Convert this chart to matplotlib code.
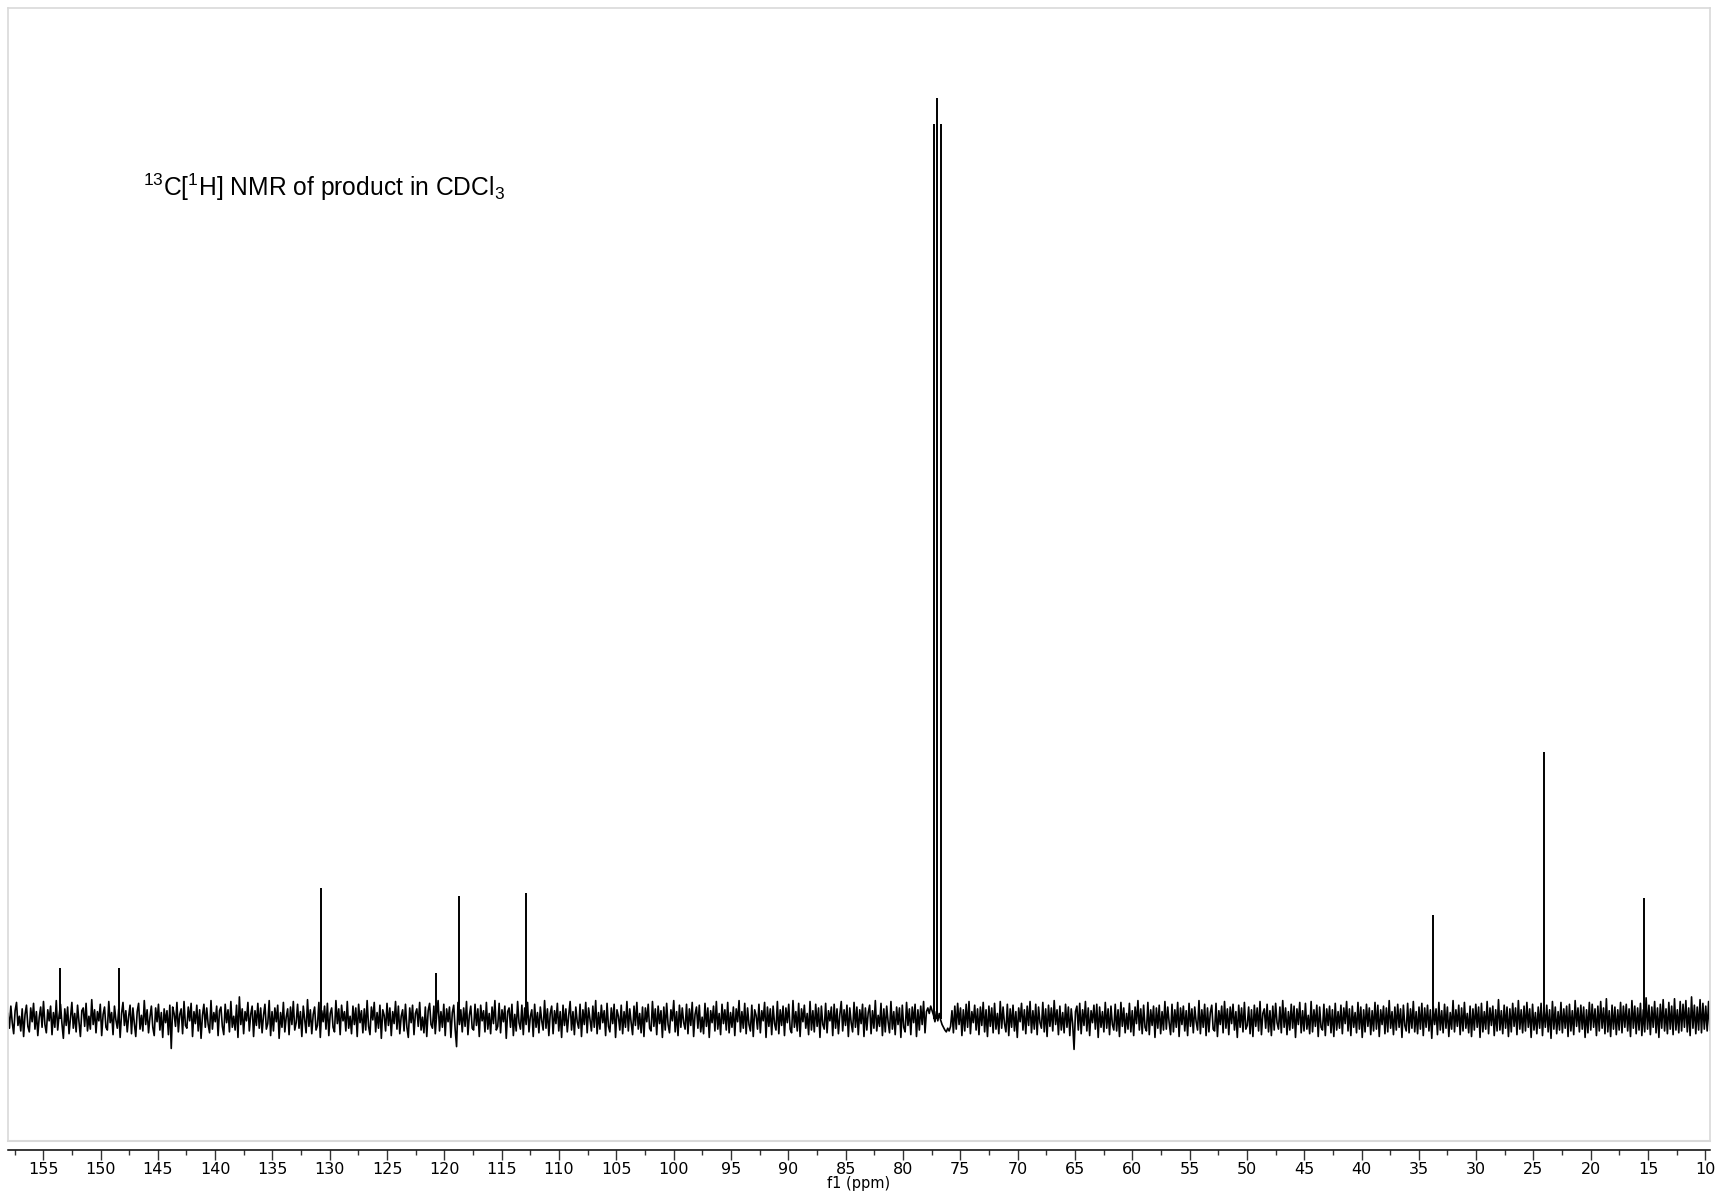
import numpy as np
import matplotlib
matplotlib.use("Agg")
import matplotlib.pyplot as plt
from matplotlib.ticker import MultipleLocator

# 13C peaks (ppm) and heights (CDCl3 centre line = 100)
peak_ppm = [153.54, 148.39, 130.75, 120.76, 118.75, 112.9, 77.33, 77.0, 76.67, 33.72, 24.07, 15.32]
peak_height = [5.5, 5.5, 14.2, 5.0, 13.4, 13.7, 97.2, 100.0, 97.2, 11.3, 29.0, 13.1]

# baseline noise, tenths of a unit, read left (158 ppm) to right (9.6 ppm)
NOISE_TXT = """
6 -10 14 -4 -16 9 18 -7 3 -13 11 -19 5 15 -8 -14 12 -3 17 -11 8 -18 2 13 -9 19 -6 -15 10 -2
14 -17 7 -9 20 -12 4 16 -5 -21 11 -7 13 -16 1 18 -10 6 -14 15 -3 -19 9 12 -8 17 -13 3 -11 21
-6 10 -15 8 -2 16 -18 5 13 -9 -12 19 -4 7 -17 14 -1 -10 11 -20 6 18 -7 9 -14 3 15 -16 12 -5
-19 8 17 -11 4 -13 20 -6 10 -15 2 14 -9 -18 12 -3 16 -12 7 -20 11 -4 9 -17 15 -32 13 6 -8 18
-14 5 11 -16 19 -7 -10 13 -2 17 -19 8 -5 15 -13 10 -21 4 16 -9 12 -6 -15 20 -11 7 -3 14 -18 9
13 -8 -17 16 -4 10 -14 19 -9 3 -12 15 -20 24 -6 11 -16 8 -2 18 -13 5 14 -19 9 -7 17 -10 12 -15
4 16 -11 -5 20 -18 8 -13 12 -3 15 -21 7 -9 18 -14 2 11 -17 13 -6 19 -12 -4 16 -10 8 -19 14 -1
-15 21 -8 10 -16 5 13 -12 -7 18 -20 9 -3 14 -11 17 -18 6 12 -9 -14 20 -5 11 -17 15 -2 8 -13 19
-10 3 -16 14 -6 12 -19 16 -4 9 -15 11 -12 20 -8 -17 13 -1 18 -14 7 -10 15 -21 10 4 -13 17 -7 12
-18 8 -5 19 -11 14 -16 3 10 -13 16 -9 -20 12 -4 15 -17 6 11 -8 18 -12 2 -15 13 -19 9 17 -6 -10
14 -16 5 20 -13 8 -9 16 -18 11 -3 13 -20 7 15 -11 -30 18 -6 10 -14 12 -8 19 -17 4 14 -10 -12 16
-7 11 -19 15 -2 9 -14 18 -11 6 -16 13 -5 20 -12 -8 17 -15 10 -3 14 -21 8 12 -9 16 -18 5 -13 19
-4 -11 15 -17 12 -6 18 -14 3 10 -19 16 -9 7 -15 13 -2 -12 20 -10 11 -18 6 14 -16 9 -5 17 -13 8
-20 15 -7 11 -14 4 19 -12 8 -17 13 -3 -10 16 -19 10 -6 18 -15 12 -1 -13 14 -9 20 -16 7 -11 15 -4
9 -18 17 -8 -14 12 -5 16 -20 10 3 -12 15 -16 8 -9 19 -13 11 -4 -17 14 -7 18 -11 6 -15 13 -19 12
-3 16 -10 -13 19 -8 11 -17 14 -5 9 -20 13 -12 17 -6 -15 10 -2 20 -14 8 -18 15 -9 12 -4 -11 16 -16
11 -7 18 -19 5 13 -10 15 -14 2 -16 17 -8 12 -20 9 -4 14 -13 19 -11 6 -17 16 -5 10 -12 18 -15 7
-9 13 -18 11 -3 20 -14 8 -10 17 -16 12 -6 -13 15 -19 10 4 -11 16 -15 9 -2 18 -20 13 -8 11 -17 14
-5 -12 19 -16 10 -7 14 -18 12 -4 16 -11 -15 20 -9 8 -13 17 -19 11 -3 15 -10 6 -17 19 -12 9 -14 16
-8 12 -20 14 -6 -11 17 -15 9 -2 13 -18 16 -10 11 -16 5 19 -13 10 -7 15 -19 12 -4 -14 18 -9 13 -17
10 -5 16 -19 12 -12 7 15 -16 9 -10 20 -13 4 -8 17 -18 11 -14 14 -3 -15 19 -11 8 -17 13 -6 12 -20
15 -9 -14 18 -7 11 -17 13 -4 16 -19 10 -12 14 -6 19 -15 8 12 6 14 9 4 -3 8 -2 6 -1 -6 -9
-12 -14 -10 -13 -8 9 -15 14 -11 17 -6 12 -18 10 -13 16 -9 19 -16 8 -4 15 -12 11 -17 13 -7 18 -14 10
-19 14 -8 12 -15 17 -11 6 -16 19 -10 13 -5 -14 16 -18 11 -9 15 -13 8 -20 12 -3 17 -12 10 -16 14 -7
19 -15 9 -11 16 -17 13 -4 -10 18 -14 11 -19 15 -8 12 -13 20 -6 10 -17 14 -12 7 -15 16 -9 13 -18 11
-5 -33 8 14 -12 17 -16 10 -7 19 -13 12 -18 9 -4 15 -11 16 -20 13 -9 8 -14 18 -10 11 -17 14 -6 -12
16 -13 10 -19 18 -8 12 -15 6 -11 17 -14 9 -18 13 -5 20 -12 11 -16 15 -9 -13 18 -17 10 -7 14 -20 12
-10 15 -16 8 -12 19 -11 13 -4 -17 16 -14 10 -9 18 -19 12 -6 14 -13 9 -18 17 -8 11 -15 13 -3 -12 20
-16 10 -9 16 -18 12 -14 7 15 -11 -13 17 -19 9 -6 14 -15 19 -10 11 -17 13 -5 16 -12 8 -20 15 -9 12
-14 18 -11 -7 13 -16 10 -19 15 -8 12 -13 19 -17 6 11 -10 16 -14 9 -18 14 -12 17 -4 -11 13 -15 20 -9
12 -17 8 -12 16 -10 14 -20 11 -6 18 -15 9 -13 17 -11 4 -16 19 -14 10 -8 15 -19 13 -9 -12 16 -18 11
-7 14 -15 10 -19 17 -12 8 -10 15 -16 12 -5 19 -13 11 -18 14 -9 7 -15 18 -11 13 -20 10 -14 16 -8 12
-17 9 -13 18 -11 15 -19 10 -6 14 -16 12 -14 20 -10 8 -17 13 -12 16 -9 11 -20 15 -7 -13 17 -15 11 -10
19 -14 8 -16 13 -11 17 -18 12 -9 15 -13 10 -21 14 -6 11 -17 18 -12 9 -15 16 -10 13 -19 7 -11 20 -14
10 -8 15 -17 12 -13 18 -10 6 -15 14 -19 11 -12 16 -9 13 -20 17 -14 8 -11 19 -16 12 -7 14 -18 10 -13
21 -12 9 -16 15 -10 13 -19 11 -14 17 -8 12 -17 20 -11 10 -15 14 -13 18 -9 11 -20 16 -12 7 -16 13 -10
17 -18 12 -9 15 -14 10 -21 19 -11 13 -16 8 -12 18 -15 11 -10 14 -19 16 -13 9 -17 20 -8 12 -14 15 -11
13 -20 10 -15 18 -12 16 -9 11 -18 14 -13 19 -10 12 -16 22 -14 9 -19 15 -11 13 -17 10 -12 18 -15 14 -9
16 -13 11 -19 20 -10 14 -16 12 -12 17 -18 10 -14 23 -11 15 -17 13 -9 19 -15 12 -20 16 -10 21 -13 11 -16
18 -11 14 -17 22 -12 10 -15 19 -13 16 -9 20 -14 12 -18 24 -10 15 -16 13 -12 21 -15 17 -11 14 -13 19 -12
"""
noise = np.array([int(v) for v in NOISE_TXT.split()]) / 10.0

X_LEFT, X_RIGHT = 158.07, 9.6

plt.rcParams["mathtext.fontset"] = "custom"
plt.rcParams["mathtext.rm"] = "Liberation Sans"
plt.rcParams["mathtext.it"] = "Liberation Sans:italic"

fig = plt.figure(figsize=(17.22, 12.04), dpi=100)
ax = fig.add_axes([8 / 1722, 1 - 1141 / 1204, 1702 / 1722, 1133 / 1204])

ppm = np.linspace(X_LEFT, X_RIGHT, len(noise))
ax.plot(ppm, noise, color="black", lw=1.2)
ax.vlines(peak_ppm, 0, peak_height, color="black", lw=1.4)

ax.set_xlim(X_LEFT, X_RIGHT)
ax.set_ylim(-13.25, 109.8)

# light frame, axis line drawn a little below it
for s in ["top", "left", "right"]:
    ax.spines[s].set_color("#d9d9d9")
    ax.spines[s].set_linewidth(1.2)
ax.plot([0, 1], [0, 0], transform=ax.transAxes, color="#d9d9d9", lw=1.5, clip_on=False)
ax.spines["bottom"].set_position(("outward", 6.5))
ax.spines["bottom"].set_linewidth(1.1)

ax.set_yticks([])
ax.xaxis.set_major_locator(MultipleLocator(5))
ax.xaxis.set_minor_locator(MultipleLocator(2.5))
ax.tick_params(axis="x", which="major", length=7.2, width=1.0, pad=1.5,
               labelsize=11.5, color="#333333")
ax.tick_params(axis="x", which="minor", length=3.3, width=1.0, color="#333333")
ax.set_xlabel("f1 (ppm)", fontsize=10.5, labelpad=-0.5)

fig.text(143 / 1722, 1 - 187 / 1204, r"$^{13}$C[$^{1}$H] NMR of product in CDCl$_{3}$",
         fontsize=17.7, family="Liberation Sans", va="center", ha="left")

fig.savefig("out.png", dpi=100)
